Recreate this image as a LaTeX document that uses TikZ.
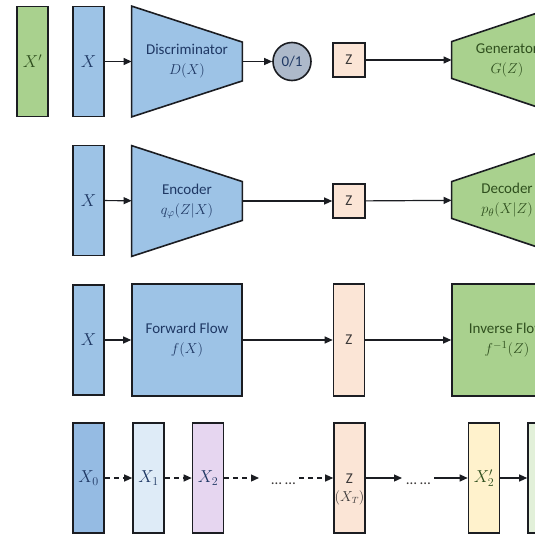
\documentclass[tikz,border=0pt]{standalone}
\usepackage{amsmath}
\usepackage{amssymb}
\usepackage{fontspec}
\setmainfont{Carlito}
\usetikzlibrary{arrows.meta,backgrounds}

\definecolor{edge}{HTML}{1B1D22}
\definecolor{bluefill}{HTML}{9DC3E6}
\definecolor{greenfill}{HTML}{A9D18E}
\definecolor{peachfill}{HTML}{FBE5D6}
\definecolor{greyfill}{HTML}{ADB9CA}
\definecolor{deepblue}{HTML}{95BBE3}
\definecolor{paleblue}{HTML}{DEEBF7}
\definecolor{lavender}{HTML}{E6D6F0}
\definecolor{paleyellow}{HTML}{FFF2CC}
\definecolor{palegreen}{HTML}{E2F0D9}
\definecolor{bluetext}{HTML}{1F3864}
\definecolor{greentext}{HTML}{2F4F1E}
\definecolor{greytext}{HTML}{3B3838}

\begin{document}
\begin{tikzpicture}[x=1pt, y=1pt, thick,
  box/.style = {draw=edge, line width=1.6pt, minimum width=31pt, minimum height=110pt, inner sep=0pt, font=\fontsize{18}{20}\selectfont},
  zbox/.style = {draw=edge, line width=1.6pt, fill=peachfill, minimum width=32pt, minimum height=34pt, inner sep=0pt, text=greytext, font=\fontsize{15}{18}\selectfont},
  blk/.style = {minimum width=110pt, minimum height=110pt, inner sep=0pt, align=center, font=\fontsize{15}{20}\selectfont},
  trap/.style = {draw=edge, line width=1.6pt, line join=miter},
  link/.style = {line width=1.2pt, draw=edge, -{Triangle[length=8pt,width=7pt]}},
  dlink/.style = {link, dash pattern=on 5pt off 4pt},
  gap/.style = {inner sep=0pt, text=greytext, font=\fontsize{15}{18}\selectfont}]
\clip (0,0) rectangle (535,-536);

\node[box, fill=greenfill, text=greentext] (xp) at (32.5,-61.5) {$X'$};
\node[box, fill=bluefill, text=bluetext] (x1) at (88.5,-61.5) {$X$};
\node[blk, text=bluetext] (disc) at (187,-61.5) {Discriminator\\$D(X)$};
\node[draw=edge, line width=1.6pt, circle, fill=greyfill, minimum size=38pt, inner sep=0pt, text=bluetext, font=\fontsize{15}{18}\selectfont] (out) at (292,-61.5) {0/1};
\node[zbox] (z1) at (349,-60) {Z};
\node[blk, text=greentext] (gen) at (507,-60) {Generator\\$G(Z)$};

\node[box, fill=bluefill, text=bluetext] (x2) at (88.5,-200.5) {$X$};
\node[blk, text=bluetext] (enc) at (187,-201) {Encoder\\$q_\varphi(Z|X)$};
\node[zbox] (z2) at (349,-201) {Z};
\node[blk, text=greentext] (dec) at (507,-200) {Decoder\\$p_\theta(X|Z)$};

\node[box, fill=bluefill, text=bluetext] (x3) at (88.5,-340) {$X$};
\node[blk, draw=edge, line width=1.6pt, fill=bluefill, minimum height=112pt, text=bluetext] (fwd) at (187,-340) {Forward Flow\\$f(X)$};
\node[box, fill=peachfill, minimum height=112pt, text=greytext] (z3) at (349,-340) {};
\node[gap] at (z3) {Z};
\node[blk, draw=edge, line width=1.6pt, fill=greenfill, minimum height=112pt, text=greentext] (inv) at (507,-340) {Inverse Flow\\$f^{-1}(Z)$};

\node[box, fill=deepblue, text=bluetext] (x0) at (88.5,-478) {$X_0$};
\node[box, fill=paleblue, text=bluetext] (xa1) at (148.5,-478) {$X_1$};
\node[box, fill=lavender, text=bluetext] (xa2) at (208,-478) {$X_2$};
\node[box, fill=peachfill] (zt) at (349.5,-478) {};
\node[gap, align=center, font=\fontsize{15}{18}\selectfont] (ztlabel) at (349.5,-489) {Z\\{\fontsize{13.5}{16}\selectfont$(X_T)$}};
\node[box, fill=paleyellow, text=greentext] (xb2) at (484,-478) {$X_2'$};
\node[box, fill=palegreen] (xb1) at (543.5,-478) {};
\node[gap] (dots1) at (283.5,-484) {…\ …};
\node[gap] (dots2) at (418.5,-484) {…\ …};
\coordinate (d1in) at (259,-478);
\coordinate (d1out) at (299,-478);
\coordinate (d2in) at (402,-478);
\coordinate (d2out) at (434,-478);

\begin{scope}[on background layer]
\draw[trap, fill=bluefill] (disc.north west) -- ([yshift=-36pt]disc.north east) -- ([yshift=36pt]disc.south east) -- (disc.south west) -- cycle;
\draw[trap, fill=greenfill] (gen.north east) -- (gen.south east) -- ([yshift=37pt]gen.south west) -- ([yshift=-37pt]gen.north west) -- cycle;
\draw[trap, fill=bluefill] (enc.north west) -- ([yshift=-36pt]enc.north east) -- ([yshift=36pt]enc.south east) -- (enc.south west) -- cycle;
\draw[trap, fill=greenfill] (dec.north east) -- (dec.south east) -- ([yshift=37pt]dec.south west) -- ([yshift=-37pt]dec.north west) -- cycle;
\end{scope}

\draw[link] (x1) -- (disc);
\draw[link] (disc) -- (out);
\draw[link] (z1) -- (gen);
\draw[link] (x2) -- (enc);
\draw[link] (enc) -- (z2);
\draw[link] (z2) -- (dec);
\draw[link] (x3) -- (fwd);
\draw[link] (fwd) -- (z3);
\draw[link] (z3) -- (inv);
\draw[dlink] (x0) -- (xa1);
\draw[dlink] (xa1) -- (xa2);
\draw[dlink] (xa2) -- (d1in);
\draw[dlink] (d1out) -- (zt);
\draw[link] (zt) -- (d2in);
\draw[link] (d2out) -- (xb2);
\draw[link] (xb2) -- (xb1);
\end{tikzpicture}
\end{document}
